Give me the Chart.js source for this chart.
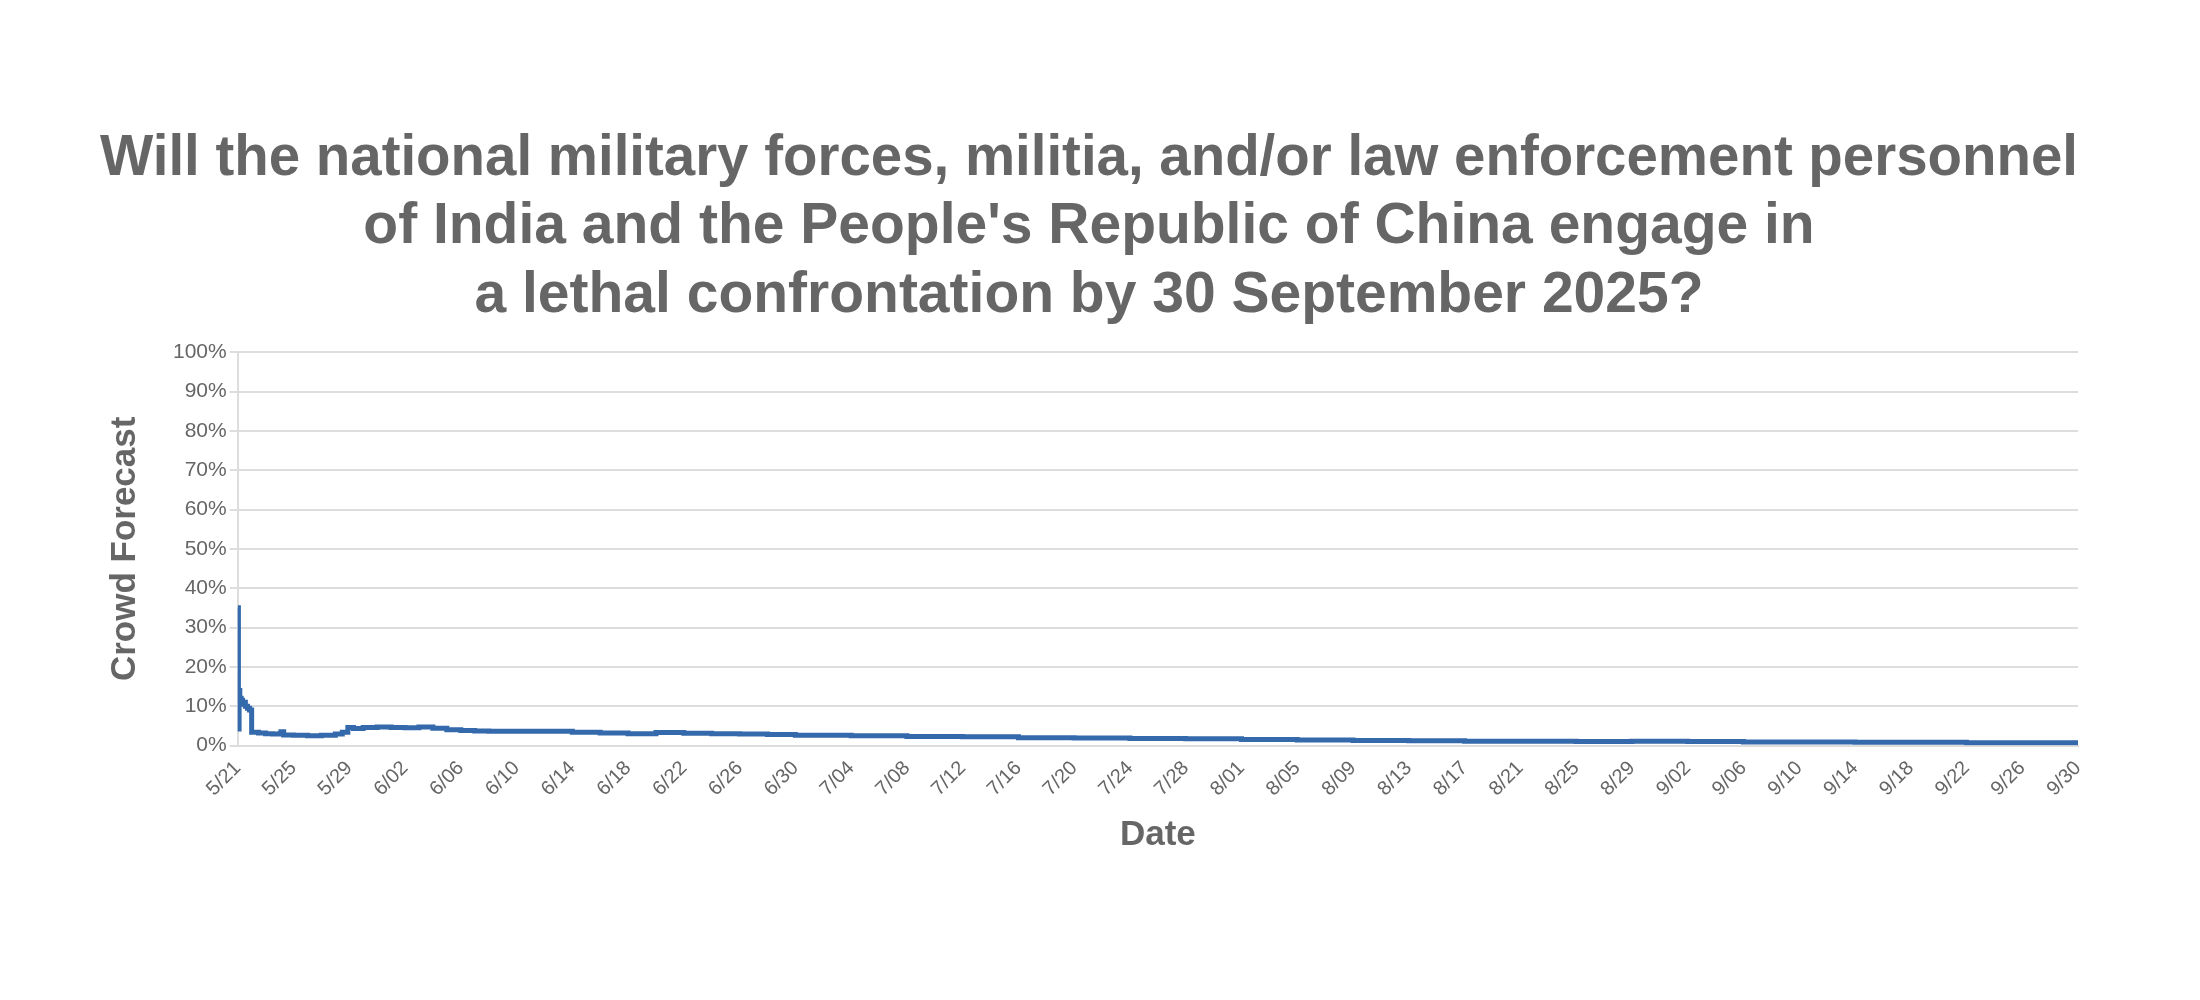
<!DOCTYPE html>
<html>
<head>
<meta charset="utf-8">
<script src="https://cdn.jsdelivr.net/npm/chart.js@4"></script>
<style>
  html, body { margin: 0; background: #fff; }
  #wrap { width: 2200px; height: 1000px; }
</style>
</head>
<body>
<div id="wrap"><canvas id="myChart"></canvas></div>
<script>
// days since 5/21/2025 and crowd forecast (%)
const days = [0, 0.05, 0.1, 0.15, 0.25, 0.35, 0.45, 0.55, 0.7, 0.85, 1.0, 1.5, 2, 2.5, 3, 3.1, 3.3, 4, 5, 6, 7, 7.5, 7.9, 8.3, 9, 10, 11, 12, 13, 14, 15, 16, 17, 18, 20, 22, 24, 26, 28, 30, 32, 34, 36, 38, 40, 44, 48, 52, 56, 60, 64, 68, 72, 76, 80, 84, 88, 92, 96, 100, 104, 108, 112, 116, 120, 124, 128, 132];
const forecast = [35, 4.2, 14, 12, 11.5, 10.5, 11, 10, 9.5, 9, 3.4, 3.2, 3.0, 2.9, 3.0, 3.5, 2.7, 2.6, 2.5, 2.6, 2.9, 3.4, 4.6, 4.3, 4.6, 4.7, 4.6, 4.5, 4.7, 4.4, 4.0, 3.8, 3.7, 3.6, 3.6, 3.6, 3.4, 3.2, 3.0, 3.3, 3.1, 3.0, 2.9, 2.8, 2.6, 2.5, 2.3, 2.2, 2.0, 1.9, 1.8, 1.7, 1.5, 1.4, 1.3, 1.2, 1.1, 1.1, 1.0, 1.1, 1.0, 0.9, 0.9, 0.8, 0.8, 0.7, 0.7, 0.7];
const yTicks = [0, 10, 20, 30, 40, 50, 60, 70, 80, 90, 100];
const titleLines = ['Will the national military forces, militia, and/or law enforcement personnel', 'of India and the People\'s Republic of China engage in', 'a lethal confrontation by 30 September 2025?'];

const start = new Date(2025, 4, 21);
function dayLabel(d) {
  const t = new Date(start.getTime() + d * 86400000);
  return (t.getMonth() + 1) + '/' + String(t.getDate()).padStart(2, '0');
}

Chart.defaults.font.family = '"Liberation Sans", Arial, sans-serif';
Chart.defaults.color = '#666';

new Chart(document.getElementById('myChart'), {
  type: 'line',
  data: {
    datasets: [{
      data: days.map((d, i) => ({ x: d, y: forecast[i] })),
      borderColor: '#3469ab',
      borderWidth: 5,
      pointRadius: 0,
      stepped: true,
      fill: false
    }]
  },
  options: {
    responsive: true,
    maintainAspectRatio: false,
    animation: false,
    layout: { padding: { left: 100, right: 122, top: 125, bottom: 140 } },
    plugins: {
      legend: { display: false },
      title: {
        display: true,
        text: titleLines,
        color: '#666',
        font: { size: 57, weight: 'bold' },
        lineHeight: 1.38,
        padding: { bottom: 22 }
      }
    },
    scales: {
      x: {
        type: 'linear',
        min: 0, max: 132,
        ticks: {
          stepSize: 4,
          callback: v => dayLabel(v),
          maxRotation: 45, minRotation: 45,
          font: { size: 20 }, color: '#666'
        },
        grid: { display: false },
        border: { color: '#ddd', width: 2 },
        title: { display: true, text: 'Date', font: { size: 35, weight: 'bold' }, color: '#666', padding: { top: 10 } }
      },
      y: {
        min: 0, max: 100,
        afterBuildTicks: ax => { ax.ticks = yTicks.map(v => ({ value: v })); },
        ticks: { callback: v => v + '%', font: { size: 21 }, color: '#666' },
        grid: { color: '#ddd', lineWidth: 2 },
        border: { display: true, color: '#ddd', width: 2 },
        title: { display: true, text: 'Crowd Forecast', font: { size: 35, weight: 'bold' }, color: '#666', padding: { bottom: 24 } }
      }
    }
  }
});
</script>
</body>
</html>
